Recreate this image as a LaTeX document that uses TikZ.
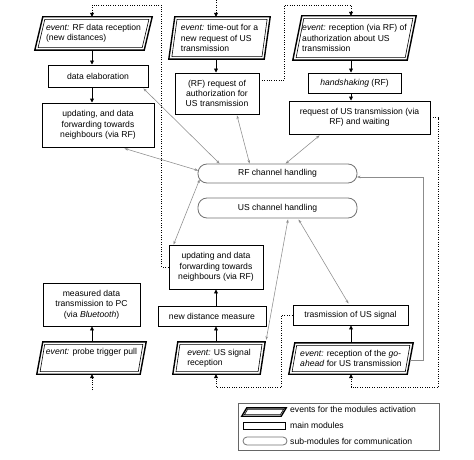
\documentclass[tikz,border=0pt]{standalone}
\usepackage{fontspec}
\setmainfont{Liberation Sans}
\usetikzlibrary{calc,arrows.meta}
% #1 node, #2 slant, #3 inset TL/BR, #4 inset TR/BL, #5 vertical inset
\newcommand{\evshape}[5]{%
  \draw[line width=1.4pt, line join=miter] ($(#1.north west)+(#2,0)$) -- (#1.north east) -- ($(#1.south east)+(-#2,0)$) -- (#1.south west) -- cycle;
  \draw[line width=0.6pt, line join=miter] ($(#1.north west)+(#2+#3,#5)$) -- ($(#1.north east)+(-#4,#5)$) -- ($(#1.south east)+(-#2-#3,-#5)$) -- ($(#1.south west)+(#4,-#5)$) -- cycle;
}
\tikzset{
  every node/.style={font=\fontsize{8.6}{10.4}\selectfont, inner sep=0pt},
  mbox/.style={draw, line width=0.9pt, align=center},
  evnode/.style={align=left},
  chan/.style={draw=black!55, line width=0.8pt, rounded corners=9pt, align=center},
  barr/.style={line width=0.9pt, -{Triangle[length=4pt,width=3.8pt]}},
  dotln/.style={line width=0.9pt, dash pattern=on 1pt off 1.4pt, -{Triangle[length=4pt,width=3.8pt]}},
  garr/.style={draw=black!45, line width=0.55pt, {Stealth[length=3.6pt,width=2.6pt]}-{Stealth[length=3.6pt,width=2.6pt]}},
  garrone/.style={draw=black!45, line width=0.55pt, -{Stealth[length=3.6pt,width=2.6pt]}},
}
\begin{document}
\begin{tikzpicture}[x=1pt,y=-1pt]
\fill[white] (0,0) rectangle (474,460);
\useasboundingbox (0,0) rectangle (474,460);
\coordinate (colA) at (92,0);
\coordinate (colB) at (216,0);
\coordinate (colC) at (351,0);

% events
\node[evnode, minimum width=117, minimum height=33] (e1) at (93.5,33.5) {\textit{event:} RF data reception\\(new distances)};
\node[evnode, minimum width=101, minimum height=42] (e2) at (219.5,38) {\textit{event:} time-out for a\\new request of US\\transmission};
\node[evnode, minimum width=123, minimum height=44] (e3) at (354.5,38) {\textit{event:} reception (via RF) of\\authorization about US\\transmission};
\node[evnode, minimum width=109, minimum height=32] (e4) at (91.5,358) {\textit{event:} probe trigger pull\\\strut};
\node[evnode, minimum width=92, minimum height=32] (e5) at (219,358) {\textit{event:} US signal\\reception};
\node[evnode, minimum width=124, minimum height=31] (e6) at (351,358.5) {\textit{event:} reception of the \textit{go-}\\\textit{ahead} for US transmission};
\evshape{e1}{8}{2.0}{3.3}{2.6}
\evshape{e2}{6}{2.2}{3.1}{2.6}
\evshape{e3}{9}{2.0}{3.3}{2.6}
\evshape{e4}{6}{1.9}{3.3}{2.6}
\evshape{e5}{5}{2.1}{3.2}{2.6}
\evshape{e6}{6}{1.9}{3.3}{2.6}

% main modules
\node[mbox, minimum width=100, minimum height=22] (de) at (98,76) {data elaboration};
\node[mbox, minimum width=112, minimum height=44] (up1) at (98,125) {updating, and data\\forwarding towards\\neighbours (via RF)};
\node[mbox, minimum width=84, minimum height=41] (rfr) at (217,93.5) {(RF) request of\\authorization for\\US transmission};
\node[mbox, minimum width=93, minimum height=20] (hs) at (354.5,83) {\textit{handshaking} (RF)};
\node[mbox, minimum width=141, minimum height=33] (req) at (359.5,117.5) {request of US transmission (via\\RF) and waiting};
\node[mbox, minimum width=94, minimum height=44] (up2) at (216,267) {updating and data\\forwarding towards\\neighbours (via RF)};
\node[mbox, minimum width=108, minimum height=20] (nd) at (212,316) {new distance measure};
\node[mbox, minimum width=115, minimum height=20] (tr) at (350.5,315) {trasmission of US signal};
\node[mbox, minimum width=97, minimum height=43] (md) at (91.5,304.5) {measured data\\transmission to PC\\(via \textit{Bluetooth})};

% channels
\node[chan, minimum width=159, minimum height=19] (rfc) at (277.5,173.5) {RF channel handling};
\node[chan, minimum width=159, minimum height=20] (usc) at (277.5,208) {US channel handling};

% black arrows
\draw[barr] (e1.south -| colA) -- (de.north -| colA);
\draw[barr] (de.south -| colA) -- (up1.north -| colA);
\draw[barr] (e2.south -| colB) -- (rfr.north -| colB);
\draw[barr] (e3.south -| colC) -- (hs.north -| colC);
\draw[barr] (hs.south -| colC) -- (req.north -| colC);
\draw[barr] (e4.north -| colA) -- (md.south -| colA);
\draw[barr] (e5.north -| colB) -- (nd.south -| colB);
\draw[barr] (nd.north -| colB) -- (up2.south -| colB);
\draw[barr] (e6.north -| colC) -- (tr.south -| colC);

% dotted connectors
\draw[dotln] (up2.west) -- ++(-7,0) -- ++(0,-262) -| (e1.north -| colA);
\draw[dotln] (colB) -- (e2.north -| colB);
\draw[dotln] ($(rfr.east)+(0,-13)$) -- ++(25,0) -- ++(0,-75.5) -| (e3.north -| colC);
\draw[dotln] (req.east) -- ++(8,0) -- ++(0,269.5) -| (e6.south -| colC);
\draw[dotln] (tr.west) -- ++(-11,0) -- ++(0,72) -| (e5.south -| colB);
\draw[dotln] ($(e4.south -| colA)+(0,16)$) -- (e4.south -| colA);

% gray connectors
\draw[garr] ($(de.south east)+(-5,1)$) -- ($(rfc.north west)+(22,0)$);
\draw[garr] ($(up1.south east)+(-30,1)$) -- ($(rfc.west)+(0.5,-3)$);
\draw[garr] ($(rfr.south)+(20,1)$) -- ($(rfc.north west)+(52,0)$);
\draw[garr] ($(req.south west)+(31,1)$) -- ($(rfc.north west)+(88,0)$);
\draw[garr] ($(rfc.west)+(2,6)$) -- ($(up2.north west)+(5,0)$);
\draw[garr] ($(usc.south)+(10.5,1)$) -- ($(e5.north east)+(1,-2)$);
\draw[garr] ($(usc.south)+(21,1)$) -- ($(tr.north)+(-2,-1)$);
\draw[garrone] ($(e6.east)+(-3,1.5)$) -- ++(13,0) |- ($(rfc.east)+(-0.5,3.5)$);

% legend
\node[draw=black!60, line width=0.6pt, minimum width=201, minimum height=47] (legend) at (338.5,426.5) {};
\node[minimum width=44, minimum height=8] (lg1) at (264,412) {};
\evshape{lg1}{5}{0.8}{2.7}{1.6}
\node[draw, line width=0.9pt, minimum width=42, minimum height=7] (lg2) at (264,425.5) {};
\node[draw=black!55, line width=0.8pt, rounded corners=4pt, minimum width=44, minimum height=8] (lg3) at (265,441) {};
\node[anchor=west] (t1) at (290,409.5) {events for the modules activation};
\node[anchor=west] (t2) at (290,425) {main modules};
\node[anchor=west] (t3) at (290,441) {sub-modules for communication};
\end{tikzpicture}
\end{document}
